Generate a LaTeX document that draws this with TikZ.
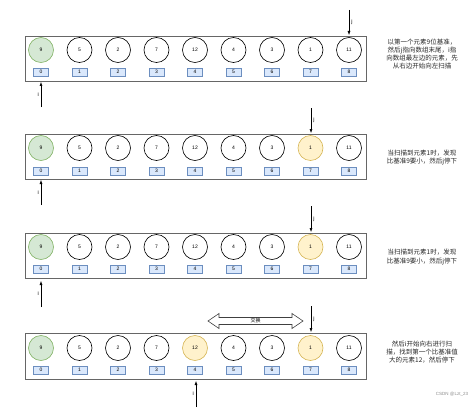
\documentclass[tikz,border=0pt]{standalone}
\usepackage{fontspec}
\setmainfont{Liberation Sans}
\newfontfamily\cjk{Noto Sans CJK SC}
\usetikzlibrary{arrows.meta}
\definecolor{gfill}{HTML}{D5E8D4}
\definecolor{gline}{HTML}{82B366}
\definecolor{yfill}{HTML}{FFF2CC}
\definecolor{yline}{HTML}{D6B656}
\definecolor{bfill}{HTML}{DAE8FC}
\definecolor{bline}{HTML}{6C8EBF}
\begin{document}
\begin{tikzpicture}[x=1pt,y=-1pt,
  panel/.style={draw=black!60, line width=0.8pt},
  elem/.style={circle, draw=black, line width=0.6pt, minimum size=25pt, inner sep=0pt, font=\fontsize{5}{6}\selectfont},
  pivot/.style={elem, fill=gfill, draw=gline},
  hit/.style={elem, fill=yfill, draw=yline},
  idx/.style={draw=bline, fill=bfill, line width=0.5pt, minimum width=15pt, minimum height=8pt, inner sep=0pt, font=\fontsize{5}{6}\selectfont},
  ptr/.style={-{Latex[length=4pt,width=3pt]}, line width=0.5pt},
  lbl/.style={font=\fontsize{5.5}{6}\selectfont, inner sep=0pt},
  note/.style={font=\cjk\fontsize{6.5}{8.2}\selectfont, align=center, text=black!85},
  swap/.style={draw=black!75, fill=white, line width=0.6pt, line join=miter}
]
\useasboundingbox (0,0) rectangle (474,412);
\def\vals{9,5,2,7,12,4,3,1,11}
\foreach \p/\top/\bot/\cy/\iy in {1/36/81/50/72, 2/134/179/148/171, 3/233/278/247/269, 4/333/379/348/370}{
  \draw[panel] (25,\top) rectangle (366,\bot);
  \foreach \v [count=\k from 0] in \vals {
    \pgfmathsetmacro{\cx}{41+38.5*\k}
    \def\st{elem}
    \ifnum\k=0 \def\st{pivot}\fi
    \ifnum\p>1 \ifnum\k=7 \def\st{hit}\fi\fi
    \ifnum\p=4 \ifnum\k=4 \def\st{hit}\fi\fi
    \node[\st] (c\p-\k) at (\cx,\cy) {\v};
    \node[idx] (x\p-\k) at (\cx,\iy) {\k};
  }
}
% pointers
\coordinate (i1s) at (41,107);  \coordinate (i1e) at (41,82);
\coordinate (j1s) at (349,10);  \coordinate (j1e) at (349,35);
\draw[ptr] (i1s) -- node[lbl, left=2pt] {i} (i1e);
\draw[ptr] (j1s) -- node[lbl, right=2pt] {j} (j1e);
\coordinate (i2s) at (41,205);  \coordinate (i2e) at (41,180);
\coordinate (j2s) at (311,108); \coordinate (j2e) at (311,133);
\draw[ptr] (i2s) -- node[lbl, left=2pt] {i} (i2e);
\draw[ptr] (j2s) -- node[lbl, right=2pt] {j} (j2e);
\coordinate (i3s) at (41,307);  \coordinate (i3e) at (41,281);
\coordinate (j3s) at (311,206); \coordinate (j3e) at (311,232);
\draw[ptr] (i3s) -- node[lbl, left=2pt] {i} (i3e);
\draw[ptr] (j3s) -- node[lbl, right=2pt] {j} (j3e);
\coordinate (i4s) at (196,407); \coordinate (i4e) at (196,381);
\coordinate (j4s) at (311,306); \coordinate (j4e) at (311,332);
\draw[ptr] (i4s) -- node[lbl, left=2pt] {i} (i4e);
\draw[ptr] (j4s) -- node[lbl, right=2pt] {j} (j4e);
% swap arrow (hollow double block arrow)
\draw[swap] (208,321) -- (219,313.5) -- (219,317.5) -- (292,317.5) -- (292,313.5)
  -- (303,321) -- (292,328.5) -- (292,324.5) -- (219,324.5) -- (219,328.5) -- cycle;
\node[font=\cjk\fontsize{5}{6}\selectfont, inner sep=0.5pt] (swl) at (255.5,321) {交换};
% notes
\node[note] (n1) at (422,54) {以第一个元素9位基准，\\然后j指向数组末尾，i指\\向数组最左边的元素，先\\从右边开始向左扫描};
\node[note] (n2) at (422,157.5) {当扫描到元素1时，发现\\比基准9要小，然后j停下};
\node[note] (n3) at (422,257) {当扫描到元素1时，发现\\比基准9要小，然后j停下};
\node[note] (n4) at (422,352) {然后i开始向右进行扫\\描，找到第一个比基准值\\大的元素12，然后停下};
\node[font=\fontsize{4.5}{5}\selectfont, text=black!45] (wm) at (452,394) {CSDN @Lzt\_23};
\end{tikzpicture}
\end{document}
